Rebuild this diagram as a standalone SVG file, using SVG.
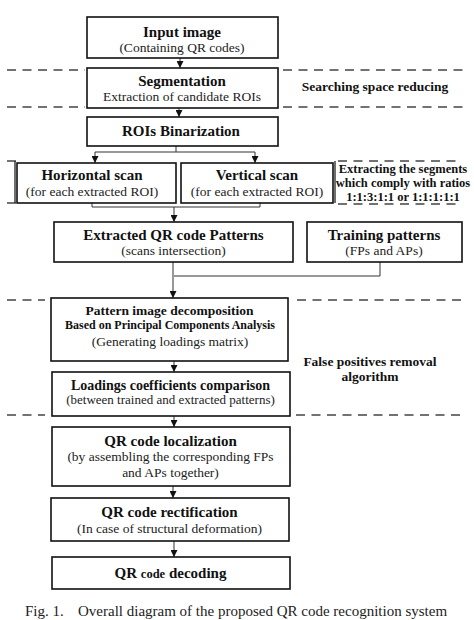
<svg xmlns="http://www.w3.org/2000/svg" width="474" height="620" viewBox="0 0 474 620">
<defs>
<style>
.box{fill:#fff;stroke:#111;stroke-width:1.6}
.t{font-family:"Liberation Serif","Times New Roman",serif;font-weight:bold;font-size:15px;fill:#111;text-anchor:middle}
.s{font-family:"Liberation Serif","Times New Roman",serif;font-size:13.5px;fill:#222;text-anchor:middle}
.c{fill:none;stroke:#333;stroke-width:1}
.d{fill:none;stroke:#444;stroke-width:1.5;stroke-dasharray:9 6.5}
.b{fill:none;stroke:#222;stroke-width:1.3}
.cap{font-family:"Liberation Serif","Times New Roman",serif;font-size:15px;fill:#222}
</style>
<marker id="ah" viewBox="0 0 8 8" refX="8" refY="4" markerWidth="7" markerHeight="7" markerUnits="userSpaceOnUse" orient="auto">
<path d="M0,0 L8,4 L0,8 z" fill="#111"/>
</marker>
</defs>
<rect width="474" height="620" fill="#fff"/>

<g id="separators">
<line class="d" x1="7" y1="70" x2="85" y2="70"/>
<line class="d" x1="283" y1="70" x2="463" y2="70"/>
<line class="d" x1="7" y1="107" x2="85" y2="107"/>
<line class="d" x1="283" y1="107" x2="463" y2="107"/>
<line class="d" x1="7" y1="161" x2="17" y2="161"/>
<line class="d" x1="7" y1="203" x2="22" y2="203"/>
<line class="b" x1="15" y1="161" x2="15" y2="203"/>
<line class="b" x1="335" y1="161" x2="335" y2="203"/>
<line class="d" x1="338" y1="161" x2="462" y2="161"/>
<line class="d" x1="338" y1="204" x2="462" y2="204"/>
<line class="d" x1="7" y1="300" x2="45" y2="300"/>
<line class="d" x1="297" y1="300" x2="463" y2="300"/>
<line class="d" x1="7" y1="415" x2="45" y2="415"/>
<line class="d" x1="296" y1="415" x2="463" y2="415"/>
</g>

<g id="connectors">
<line class="c" x1="180" y1="58" x2="180" y2="68" marker-end="url(#ah)"/>
<line class="c" x1="179" y1="108" x2="179" y2="117" marker-end="url(#ah)"/>
<polyline class="c" points="176,146 176,152"/>
<polyline class="c" points="95,152 255,152"/>
<line class="c" x1="95" y1="152" x2="95" y2="163" marker-end="url(#ah)"/>
<line class="c" x1="255" y1="152" x2="255" y2="163" marker-end="url(#ah)"/>
<polyline class="c" points="92,203 92,207 260,207 260,203"/>
<line class="c" x1="174" y1="207" x2="174" y2="222" marker-end="url(#ah)"/>
<line class="c" x1="173" y1="262" x2="173" y2="298" marker-end="url(#ah)"/>
<polyline class="c" points="174,276 380,276 380,262"/>
<line class="c" x1="174" y1="361" x2="174" y2="372" marker-end="url(#ah)"/>
<line class="c" x1="174" y1="416" x2="174" y2="427" marker-end="url(#ah)"/>
<line class="c" x1="173" y1="486" x2="173" y2="498" marker-end="url(#ah)"/>
<line class="c" x1="174" y1="541" x2="174" y2="557" marker-end="url(#ah)"/>
</g>

<g id="input">
<rect class="box" x="87" y="17" width="191" height="41"/>
<text class="t" x="182" y="37">Input image</text>
<text class="s" x="182" y="52">(Containing QR codes)</text>
</g>
<g id="segmentation">
<rect class="box" x="87" y="68" width="191" height="40"/>
<text class="t" x="182" y="86">Segmentation</text>
<text class="s" x="182" y="101">Extraction of candidate ROIs</text>
</g>
<g id="binarization">
<rect class="box" x="87" y="117" width="191" height="29"/>
<text class="t" x="181" y="136">ROIs Binarization</text>
</g>
<g id="horizontal">
<rect class="box" x="17" y="163" width="159" height="40"/>
<text class="t" x="92" y="180">Horizontal scan</text>
<text class="s" x="92" y="196">(for each extracted ROI)</text>
</g>
<g id="vertical">
<rect class="box" x="181" y="163" width="152" height="40"/>
<text class="t" x="257" y="180">Vertical scan</text>
<text class="s" x="257" y="196">(for each extracted ROI)</text>
</g>
<g id="extracted">
<rect class="box" x="54" y="222" width="239" height="40"/>
<text class="t" x="173.5" y="240">Extracted QR code Patterns</text>
<text class="s" x="173.5" y="255">(scans intersection)</text>
</g>
<g id="training">
<rect class="box" x="307" y="222" width="155" height="40"/>
<text class="t" x="384" y="240">Training patterns</text>
<text class="s" x="384" y="255">(FPs and APs)</text>
</g>
<g id="decomposition">
<rect class="box" x="51" y="298" width="237" height="63"/>
<text class="t" x="169.5" y="315" style="font-size:13.5px">Pattern image decomposition</text>
<text class="t" x="170" y="329" style="font-size:12px">Based on Principal Components Analysis</text>
<text class="s" x="170" y="346">(Generating loadings matrix)</text>
</g>
<g id="loadings">
<rect class="box" x="52" y="372" width="238" height="44"/>
<text class="t" x="170.5" y="390" style="font-size:14px">Loadings coefficients comparison</text>
<text class="s" x="170.5" y="404" style="font-size:13px">(between trained and extracted patterns)</text>
</g>
<g id="localization">
<rect class="box" x="52" y="427" width="238" height="59"/>
<text class="t" x="170.5" y="446">QR code localization</text>
<text class="s" x="170.5" y="461">(by assembling the corresponding FPs</text>
<text class="s" x="170.5" y="477">and APs together)</text>
</g>
<g id="rectification">
<rect class="box" x="51" y="498" width="238" height="43"/>
<text class="t" x="169.5" y="517">QR code rectification</text>
<text class="s" x="169.5" y="533">(In case of structural deformation)</text>
</g>
<g id="decoding">
<rect class="box" x="52" y="557" width="238" height="32"/>
<text class="t" x="170.5" y="578">QR <tspan style="font-size:12.5px">code</tspan> decoding</text>
</g>

<g id="annotations">
<text class="t" x="375" y="91" style="font-size:13.5px">Searching space reducing</text>
<text class="t" x="403" y="173" style="font-size:12.5px">Extracting the segments</text>
<text class="t" x="403" y="187" style="font-size:12.5px">which comply with ratios</text>
<text class="t" x="403" y="201" style="font-size:12.5px">1:1:3:1:1 or 1:1:1:1:1</text>
<text class="t" x="370" y="366" style="font-size:13.5px">False positives removal</text>
<text class="t" x="370" y="381" style="font-size:13.5px">algorithm</text>
</g>

<g id="caption">
<text class="cap" x="25" y="616">Fig. 1.</text>
<text class="cap" x="78" y="616">Overall diagram of the proposed QR code recognition system</text>
</g>
</svg>
